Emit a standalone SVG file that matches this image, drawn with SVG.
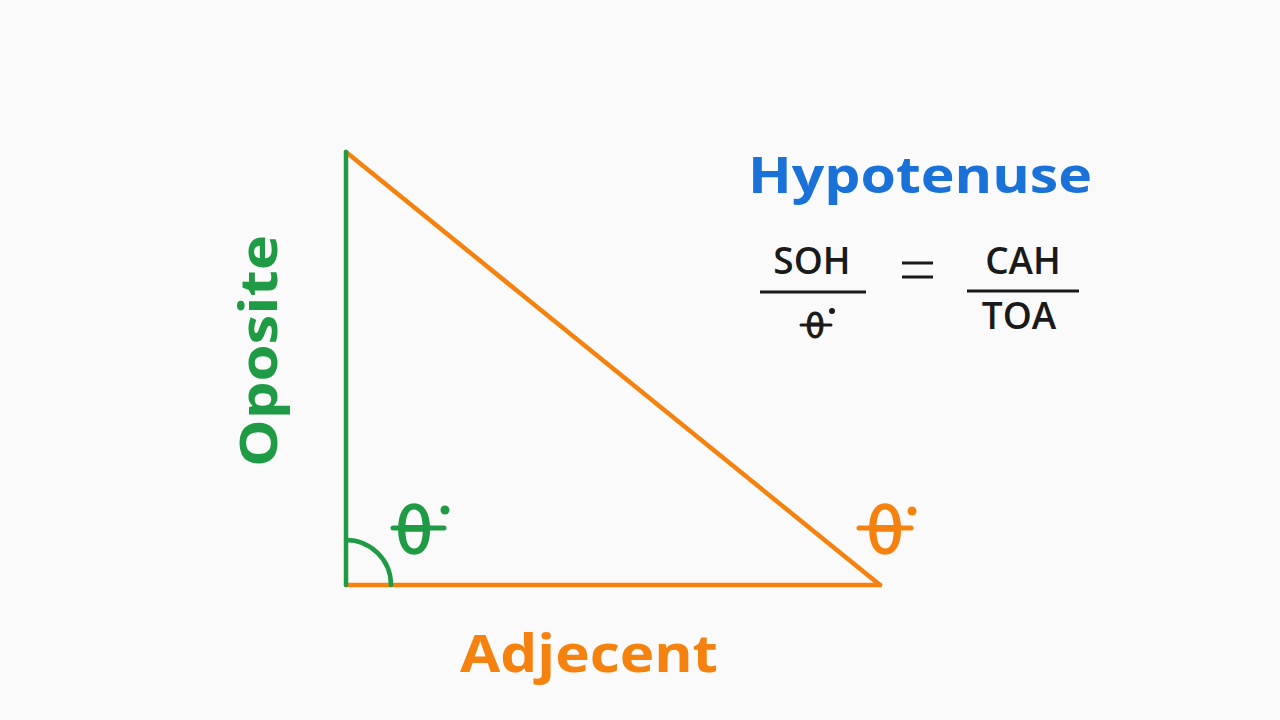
<svg xmlns="http://www.w3.org/2000/svg" width="1280" height="720" viewBox="0 0 1280 720">
<style>
.t{font-family:"Open Sans","Noto Sans","Liberation Sans",sans-serif;font-weight:700}
.th{font-family:"DejaVu Sans","Liberation Sans",sans-serif;font-weight:400}
.m{font-family:"Open Sans","Noto Sans","Liberation Sans",sans-serif;font-weight:600;fill:#1a1a1a}
.g{fill:#1f9a45}
.o{fill:#f5820f}
.b{fill:#1a72d8}
</style>
<rect width="1280" height="720" fill="#fafafa"/>
<g id="connectors" fill="none" stroke-width="4.5" stroke-linecap="round">
<line x1="346" y1="152" x2="880" y2="585" stroke="#f5820f"/>
<line x1="346" y1="585" x2="880" y2="585" stroke="#f5820f"/>
<line x1="346" y1="152" x2="346" y2="585" stroke="#1f9a45"/>
<path d="M346 540 A45 45 0 0 1 391 585" stroke="#1f9a45"/>
</g>
<g id="theta-left">
<text class="th g" transform="translate(414,553) scale(0.95,1)" font-size="64" text-anchor="middle" stroke="#1f9a45" stroke-width="1.5">θ</text>
<line x1="393" y1="528" x2="444" y2="528" stroke="#1f9a45" stroke-width="5" stroke-linecap="round"/>
<circle cx="445" cy="510" r="4.5" class="g"/>
</g>
<g id="theta-right">
<text class="th o" transform="translate(885,553) scale(0.95,1)" font-size="64" text-anchor="middle" stroke="#f5820f" stroke-width="1.5">θ</text>
<line x1="859" y1="528" x2="911" y2="528" stroke="#f5820f" stroke-width="5" stroke-linecap="round"/>
<circle cx="912" cy="511" r="4.5" class="o"/>
</g>
<g id="hypotenuse"><text class="t b" x="920" y="193" font-size="50" text-anchor="middle" textLength="344" lengthAdjust="spacingAndGlyphs">Hypotenuse</text></g>
<g id="adjacent"><text class="t o" x="589" y="672" font-size="52" text-anchor="middle" textLength="258" lengthAdjust="spacingAndGlyphs">Adjecent</text></g>
<g id="opposite"><text class="t g" transform="translate(277,351) rotate(-90)" x="0" y="0" font-size="52" text-anchor="middle" textLength="232" lengthAdjust="spacingAndGlyphs">Oposite</text></g>
<g id="formula">
<text class="m" x="812" y="274" font-size="37" text-anchor="middle">SOH</text>
<line x1="760" y1="292" x2="866" y2="292" stroke="#1a1a1a" stroke-width="3"/>
<text class="th" fill="#1a1a1a" stroke="#1a1a1a" stroke-width="1" transform="translate(815,338) scale(0.95,1)" font-size="33" text-anchor="middle">θ</text>
<line x1="801" y1="325" x2="831" y2="325" stroke="#1a1a1a" stroke-width="3" stroke-linecap="round"/>
<circle cx="832" cy="311" r="3" fill="#1a1a1a"/>
<line x1="902" y1="263" x2="933" y2="263" stroke="#1a1a1a" stroke-width="3"/>
<line x1="902" y1="277" x2="933" y2="277" stroke="#1a1a1a" stroke-width="3"/>
<text class="m" x="1023" y="274" font-size="37" text-anchor="middle">CAH</text>
<line x1="967" y1="291" x2="1079" y2="291" stroke="#1a1a1a" stroke-width="3"/>
<text class="m" x="1019" y="329" font-size="37" text-anchor="middle">TOA</text>
</g>
</svg>
